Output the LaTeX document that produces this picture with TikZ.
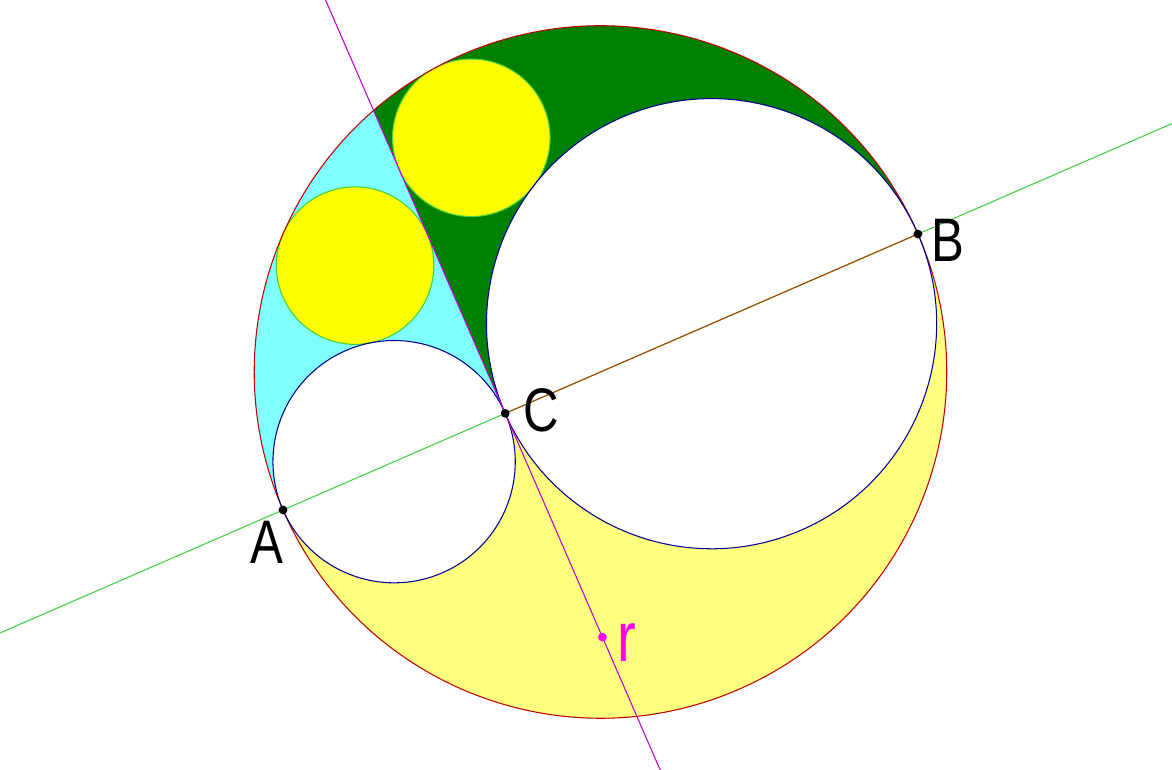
\documentclass[tikz,border=0pt]{standalone}
\usepackage{fontspec}
\setmainfont{Liberation Sans}
\definecolor{lyel}{HTML}{FFFF80}
\definecolor{cyanf}{HTML}{80FFFF}
\definecolor{dgreen}{HTML}{008000}
\definecolor{yel}{HTML}{FFFF00}
\definecolor{outred}{HTML}{C00000}
\definecolor{navy}{HTML}{000090}
\definecolor{lgreen}{HTML}{40D040}
\definecolor{brown}{HTML}{B04000}
\definecolor{violet}{HTML}{C000D0}
\definecolor{mag}{HTML}{FF00FF}
\tikzset{
  outline/.style={draw=outred, line width=0.6pt},
  arbcirc/.style={draw=navy, line width=0.6pt},
  twin/.style={fill=yel, draw=lgreen, line width=0.6pt},
  gline/.style={draw=lgreen, line width=0.6pt},
  cbseg/.style={draw=brown, line width=0.6pt},
  rline/.style={draw=violet, line width=0.6pt},
  dot/.style={circle, fill=black, inner sep=0pt, minimum size=5pt},
  mdot/.style={circle, fill=mag, inner sep=0pt, minimum size=5pt},
  lab/.style={inner sep=0pt, font=\fontsize{35}{40}\selectfont, xscale=0.8},
}
\begin{document}
\begin{tikzpicture}[x=0.02cm, y=0.02cm]
\useasboundingbox (0,0) rectangle (1172,770);
\fill[white] (0,0) rectangle (1172,770);
\clip (0,0) rectangle (1172,770);
\begin{scope}[shift={(505.2,356.6)}, rotate=23.49]
  \coordinate (C) at (0,0);
  \coordinate (A) at (-242.3,0);
  \coordinate (B) at (450.1,0);
  \coordinate (O) at (103.9,0);
  \coordinate (O1) at (-121.15,0);
  \coordinate (O2) at (225.05,0);
  \coordinate (T1) at (-78.76,195.4);
  \coordinate (T2) at (78.76,266.3);
  \coordinate (L1) at (-800,0);
  \coordinate (L2) at (900,0);
  \coordinate (R1) at (0,-600);
  \coordinate (R2) at (0,600);
  \coordinate (P) at (0,-244);
  % regions
  \begin{scope}
    \clip (O) circle [radius=346.2];
    \fill[lyel] (-400,-400) rectangle (500,0);
    \fill[cyanf] (-400,0) rectangle (0,400);
    \fill[dgreen] (0,0) rectangle (500,400);
  \end{scope}
  \fill[white] (O1) circle [radius=121.15];
  \fill[white] (O2) circle [radius=225.05];
  \path[twin] (T1) circle [radius=78.76];
  \path[twin] (T2) circle [radius=78.76];
  \path[outline] (O) circle [radius=346.2];
  \path[arbcirc] (O1) circle [radius=121.15];
  \path[arbcirc] (O2) circle [radius=225.05];
  \path[gline] (L1) -- (L2);
  \path[rline] (R1) -- (R2);
  \path[cbseg] (C) -- (B);
  \node[dot] (pA) at (A) {};
  \node[dot] (pB) at (B) {};
  \node[dot] (pC) at (C) {};
  \node[mdot] (pr) at (P) {};
\end{scope}
\node[lab] (lA) at (267,228) {A};
\node[lab] (lB) at (948,530) {B};
\node[lab] (lC) at (541,360) {C};
\node[lab, text=mag, font=\fontsize{40}{46}\selectfont] (lr) at (627,127) {r};
\end{tikzpicture}
\end{document}
